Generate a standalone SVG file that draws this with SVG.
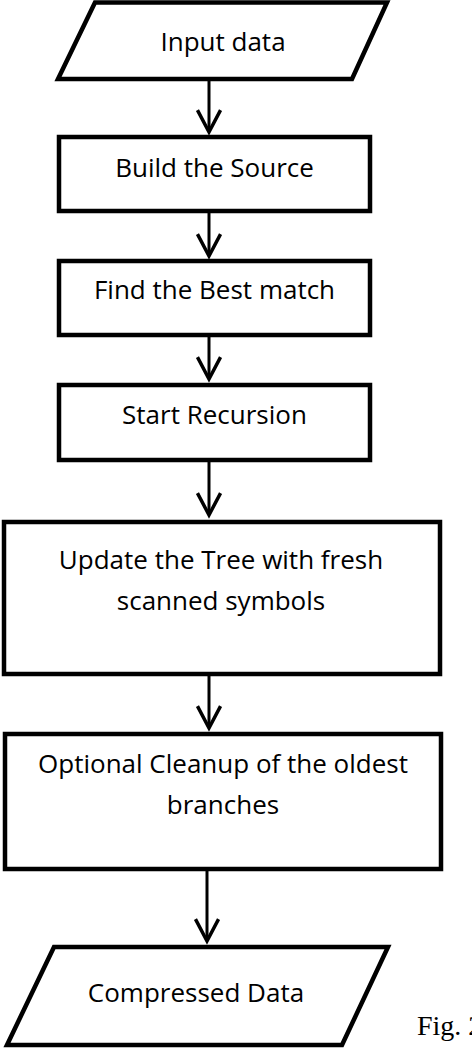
<svg xmlns="http://www.w3.org/2000/svg" width="472" height="1048" viewBox="0 0 472 1048">
<style>
.n{fill:#fff;stroke:#000;stroke-width:4.5}
.t{font-family:"Open Sans","Liberation Sans",sans-serif;font-size:26px;fill:#000;text-anchor:middle}
.c{stroke:#000;stroke-width:3;fill:none}
.f{font-family:"Liberation Serif","Times New Roman",serif;font-size:28px;fill:#000}
</style>
<defs>
<marker id="ah" markerUnits="userSpaceOnUse" markerWidth="30" markerHeight="30" refX="0" refY="0" viewBox="-22 -13 25 26" orient="auto" overflow="visible">
<path d="M-19,-10 L0,0 L-19,10" fill="none" stroke="#000" stroke-width="3"/>
</marker>
</defs>
<rect width="472" height="1048" fill="#fff"/>
<g id="connectors">
<line class="c" x1="209" y1="81" x2="209" y2="132" marker-end="url(#ah)"/>
<line class="c" x1="209" y1="213" x2="209" y2="256" marker-end="url(#ah)"/>
<line class="c" x1="209" y1="337" x2="209" y2="379" marker-end="url(#ah)"/>
<line class="c" x1="209" y1="462" x2="209" y2="515" marker-end="url(#ah)"/>
<line class="c" x1="209" y1="676" x2="209" y2="728" marker-end="url(#ah)"/>
<line class="c" x1="207" y1="871" x2="207" y2="941" marker-end="url(#ah)"/>
</g>
<g id="input">
<polygon class="n" points="95,2.5 387,2.5 352,79 58,79"/>
<text class="t" x="223" y="51">Input data</text>
</g>
<g id="build">
<rect class="n" x="59" y="137" width="311" height="74"/>
<text class="t" x="214.5" y="177">Build the Source</text>
</g>
<g id="find">
<rect class="n" x="59" y="261" width="311" height="74"/>
<text class="t" x="214.5" y="299">Find the Best match</text>
</g>
<g id="recursion">
<rect class="n" x="59" y="385" width="311" height="75"/>
<text class="t" x="214.5" y="424">Start Recursion</text>
</g>
<g id="update">
<rect class="n" x="4" y="522" width="436" height="152"/>
<text class="t" x="221" y="569">Update the Tree with fresh</text>
<text class="t" x="221" y="610">scanned symbols</text>
</g>
<g id="cleanup">
<rect class="n" x="5" y="734" width="436" height="135"/>
<text class="t" x="223" y="773">Optional Cleanup of the oldest</text>
<text class="t" x="223" y="814">branches</text>
</g>
<g id="output">
<polygon class="n" points="54,947 388,947 342,1045 7,1045"/>
<text class="t" x="196" y="1002">Compressed Data</text>
</g>
<text class="f" x="417" y="1035">Fig. 2</text>
</svg>
